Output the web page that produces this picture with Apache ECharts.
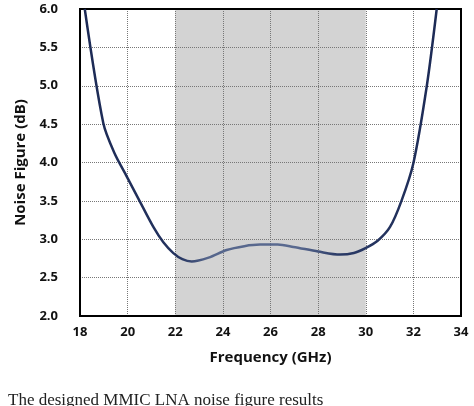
<!DOCTYPE html>
<html><head><meta charset="utf-8">
<script src="https://cdn.jsdelivr.net/npm/echarts@6/dist/echarts.min.js"></script>
<style>html,body{margin:0;padding:0;background:#fff}#c{width:474px;height:406px}</style>
</head><body><div id="c"></div>
<script>
const freq = [18.2, 18.98, 19.45, 19.96, 20.5, 21.08, 21.5, 21.92, 22.3, 22.69, 23.4, 24.16, 24.9, 25.56, 26.3, 26.96, 28.0, 28.92, 29.5, 29.97, 30.5, 31.02, 31.5, 32.0, 32.56, 32.98];
const nf   = [6.0, 4.51, 4.12, 3.82, 3.5, 3.16, 2.96, 2.82, 2.74, 2.71, 2.76, 2.86, 2.91, 2.93, 2.93, 2.90, 2.84, 2.80, 2.82, 2.88, 2.98, 3.16, 3.50, 3.99, 4.99, 6.0];
const band = [22, 30];
const xTicks = [18, 34, 2];
const yTicks = [2.0, 6.0, 0.5];
const caption = 'The designed MMIC LNA noise figure results';
const chart = echarts.init(document.getElementById('c'));
const lab = {fontFamily:'Open Sans', fontWeight:'bold', fontSize:13, color:'#111'};
chart.setOption({
  animation:false,
  grid:{left:80, right:13, top:9, bottom:90, show:true, borderColor:'#000', borderWidth:2, z:3},
  xAxis:{type:'value', min:xTicks[0], max:xTicks[1], interval:xTicks[2],
    name:'Frequency (GHz)', nameLocation:'middle', nameGap:34,
    nameTextStyle:{fontFamily:'Open Sans', fontWeight:'bold', fontSize:15, color:'#111'},
    axisLine:{show:false}, axisTick:{show:false},
    axisLabel:Object.assign({margin:10}, lab),
    splitLine:{lineStyle:{color:'#777', type:[1,1]}}},
  yAxis:{type:'value', min:yTicks[0], max:yTicks[1], interval:yTicks[2],
    name:'Noise Figure (dB)', nameLocation:'middle', nameGap:52,
    nameTextStyle:{fontFamily:'Open Sans', fontWeight:'bold', fontSize:15, color:'#111'},
    axisLine:{show:false}, axisTick:{show:false},
    axisLabel:Object.assign({margin:22, formatter:v=>v.toFixed(1)}, lab),
    splitLine:{lineStyle:{color:'#777', type:[1,1]}}},
  series:[
   {type:'line', data:[], z:-5, silent:true,
    markArea:{silent:true, z:-5, itemStyle:{color:'#d3d3d3'}, data:[[{xAxis:band[0]},{xAxis:band[1]}]]}},
   {type:'line', smooth:0.3, symbol:'none', clip:true,
    data:freq.map((f,i)=>[f,nf[i]]),
    lineStyle:{width:2.5, color:{type:'linear',x:0,y:0,x2:1,y2:0,colorStops:[
      {offset:0,color:'#1c2a55'},{offset:0.27,color:'#24335f'},{offset:0.35,color:'#56668c'},
      {offset:0.6,color:'#5a6a90'},{offset:0.72,color:'#2a3a66'},{offset:1,color:'#1c2a55'}]}}
  }],
  graphic:[{type:'text', left:8, top:392, style:{text:caption, font:'17px "Liberation Serif", serif', fill:'#222'}}]
});
</script></body></html>
